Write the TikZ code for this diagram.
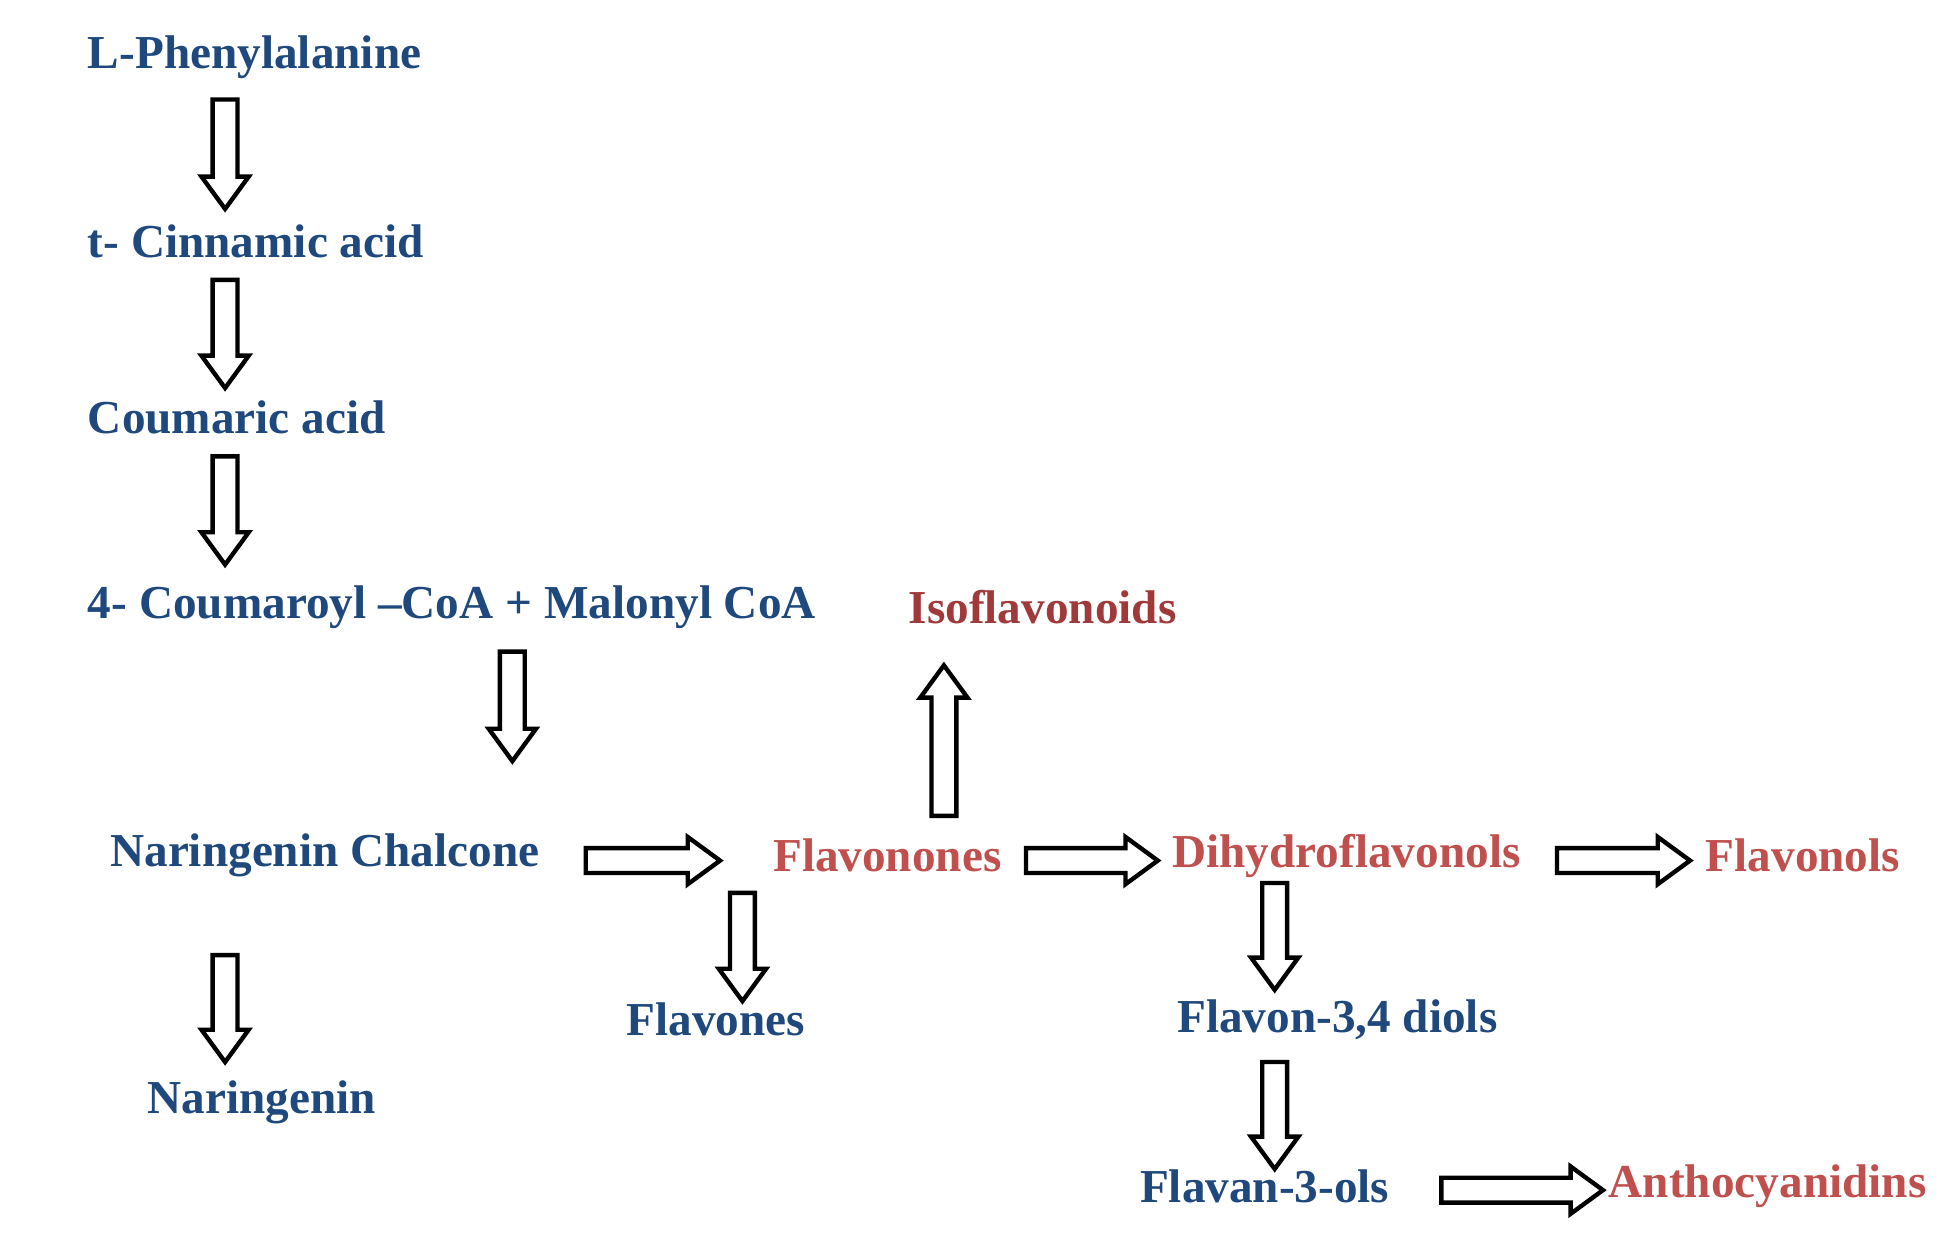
\documentclass[tikz,border=0pt]{standalone}
\usepackage{fontspec}
\setmainfont{Liberation Serif}
\definecolor{bl}{HTML}{1F497D}
\definecolor{rd}{HTML}{C0504D}
\definecolor{drd}{HTML}{A0393A}
\begin{document}
\begin{tikzpicture}[x=0.01cm,y=-0.01cm,
  t/.style={anchor=west,inner sep=0pt,font=\fontsize{10.8}{13}\selectfont\bfseries},
  b/.style={t,text=bl}, r/.style={t,text=rd},
  pics/barrow/.style={code={\draw[fill=white,line width=1pt,line join=miter] (0,-10)--(#1-26,-10)--(#1-26,-19)--(#1,0)--(#1-26,19)--(#1-26,10)--(0,10)--cycle;}}]
\useasboundingbox (0,0) rectangle (1560,1008);
\node[b] (phe) at (70,46) {L-Phenylalanine};
\node[b] (cin) at (70,194) {t- Cinnamic acid};
\node[b] (cou) at (70,336) {Coumaric acid};
\node[b] (coa) at (70,488) {4- Coumaroyl –CoA + Malonyl CoA};
\node[t,text=drd] (iso) at (730,488) {Isoflavonoids};
\node[b] (nch) at (88,688) {Naringenin Chalcone};
\node[r] (fln) at (621,688) {Flavonones};
\node[r] (dhf) at (942,688) {Dihydroflavonols};
\node[r] (fls) at (1371,688) {Flavonols};
\node[b] (flv) at (503,820) {Flavones};
\node[b] (fdi) at (946,820) {Flavon-3,4 diols};
\node[b] (nar) at (118,886) {Naringenin};
\node[b] (f3o) at (916,954) {Flavan-3-ols};
\node[r] (ant) at (1293,954) {Anthocyanidins};
\pic[rotate=-90] at (181,80) {barrow=88};
\pic[rotate=-90] at (181,225) {barrow=87};
\pic[rotate=-90] at (181,367) {barrow=87};
\pic[rotate=-90] at (412,524) {barrow=88};
\pic at (471,692) {barrow=108};
\pic[rotate=90] at (759,656) {barrow=121};
\pic[rotate=-90] at (597,718) {barrow=87};
\pic at (825,692) {barrow=106};
\pic[rotate=-90] at (1025,710) {barrow=86};
\pic at (1252,692) {barrow=107};
\pic[rotate=-90] at (181,768) {barrow=86};
\pic[rotate=-90] at (1025,854) {barrow=86};
\pic at (1159,957) {barrow=130};
\end{tikzpicture}
\end{document}
